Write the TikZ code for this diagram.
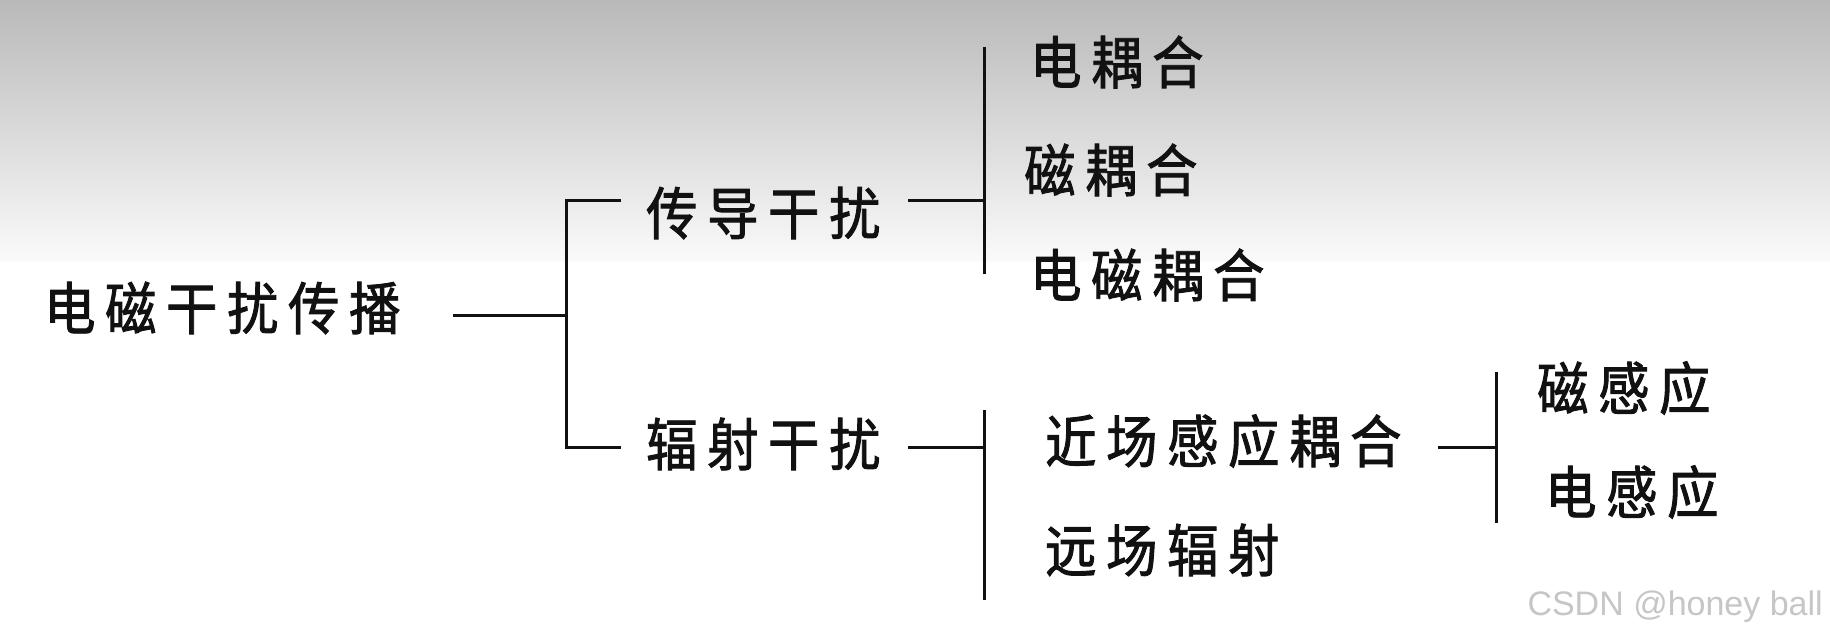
\documentclass[tikz,border=0pt]{standalone}
\usepackage{fontspec}
\usepackage{tikz}
\newfontfamily\cjk[FakeStretch=0.9,LetterSpace=17,FakeBold=1.6]{Noto Sans CJK SC}
\newfontfamily\wmfont{Liberation Sans}
\definecolor{bgtop}{HTML}{B9B9B9}
\definecolor{bgend}{HTML}{FAFAFA}
\definecolor{ink}{HTML}{111111}
\definecolor{wmgray}{HTML}{C6C6C6}
\tikzset{
  lbl/.style={anchor=west, inner sep=0pt, text=ink, font=\cjk\fontsize{57}{60}\selectfont},
  wire/.style={draw=ink, line width=3pt}
}

\begin{document}
\begin{tikzpicture}[x=1pt, y=-1pt]
\useasboundingbox (0,0) rectangle (1830,639);
\shade [top color=bgtop, bottom color=bgend] (0,0) rectangle (1830,262);
\fill [white] (0,262) rectangle (1830,639);
% text
\node [lbl] (root) at (44,308) {电磁干扰传播};
\node [lbl] (cond) at (646,213) {传导干扰};
\node [lbl] (rad) at (646,444) {辐射干扰};
\node [lbl] (ecpl) at (1030,62) {电耦合};
\node [lbl] (mcpl) at (1024,170) {磁耦合};
\node [lbl] (emcpl) at (1030,275) {电磁耦合};
\node [lbl] (near) at (1045,441) {近场感应耦合};
\node [lbl] (far) at (1045,550) {远场辐射};
\node [lbl] (mind) at (1537,388) {磁感应};
\node [lbl] (eind) at (1545,492) {电感应};
\node [anchor=east, inner sep=0pt, text=wmgray, font=\wmfont\fontsize{34}{36}\selectfont] (wm) at (1823,607) {CSDN @honey ball};
% joints
\coordinate (r0) at (453,315);
\coordinate (b0) at (566,315);
\coordinate (b1) at (566,201);
\coordinate (b2) at (566,447);
\coordinate (t1) at (621,201);
\coordinate (t2) at (621,447);
\coordinate (c0) at (908,201);
\coordinate (c1) at (984,201);
\coordinate (c2) at (984,47);
\coordinate (c3) at (984,274);
\coordinate (d0) at (908,447);
\coordinate (d1) at (984,447);
\coordinate (d2) at (984,410);
\coordinate (d3) at (984,600);
\coordinate (n0) at (1438,447);
\coordinate (n1) at (1496,447);
\coordinate (n2) at (1496,372);
\coordinate (n3) at (1496,523);
% lines
\draw [wire] (r0) -- (b0);
\draw [wire] (t1) -- (b1) -- (b2) -- (t2);
\draw [wire] (c0) -- (c1);
\draw [wire] (c2) -- (c3);
\draw [wire] (d0) -- (d1);
\draw [wire] (d2) -- (d3);
\draw [wire] (n0) -- (n1);
\draw [wire] (n2) -- (n3);
\end{tikzpicture}
\end{document}
